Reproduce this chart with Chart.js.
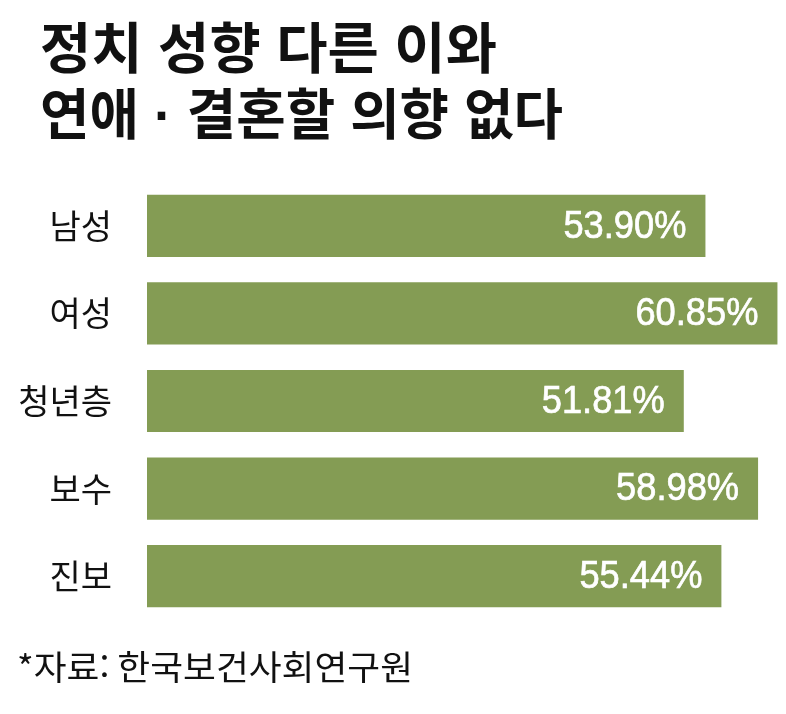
<!DOCTYPE html>
<html lang="ko">
<head>
<meta charset="utf-8">
<script src="https://cdn.jsdelivr.net/npm/chart.js@4"></script>
<style>
  html, body { margin: 0; padding: 0; background: #fff; }
  #wrap { width: 786px; height: 714px; position: relative; }
</style>
</head>
<body>
<div id="wrap"><canvas id="chart"></canvas></div>
<script>
// Data
const titleLines = ['정치 성향 다른 이와', '연애 · 결혼할 의향 없다'];
const categories = ['남성', '여성', '청년층', '보수', '진보'];
const values = [53.90, 60.85, 51.81, 58.98, 55.44];
const sourceNote = '*자료: 한국보건사회연구원';

const barColor = '#849c54';

// draw text squeezed/stretched horizontally to a given width (the original uses a narrow gothic face)
function fitText(ctx, text, x, y, width) {
  const w = ctx.measureText(text).width;
  ctx.save();
  ctx.translate(x, y);
  ctx.scale(width / w, 1);
  ctx.fillText(text, 0, 0);
  ctx.restore();
}

// Title and source note
const textPlugin = {
  id: 'textPlugin',
  afterDraw(chart) {
    const ctx = chart.ctx;
    ctx.save();
    ctx.fillStyle = '#111';
    ctx.textAlign = 'left';
    ctx.textBaseline = 'middle';
    ctx.font = 'bold 55px "Liberation Sans", "Noto Sans CJK KR"';
    fitText(ctx, titleLines[0], 40, 53, 457);
    fitText(ctx, titleLines[1], 40, 119, 523);
    ctx.font = '34px "Noto Sans CJK KR"';
    fitText(ctx, sourceNote, 17, 667, 396);
    ctx.restore();
  }
};

// Value labels inside the bar ends
const valueLabels = {
  id: 'valueLabels',
  afterDatasetsDraw(chart) {
    const ctx = chart.ctx;
    const meta = chart.getDatasetMeta(0);
    ctx.save();
    ctx.fillStyle = '#fff';
    ctx.strokeStyle = '#fff';
    ctx.lineWidth = 0.7;
    ctx.textAlign = 'right';
    ctx.textBaseline = 'middle';
    ctx.font = '39px "Liberation Sans"';
    meta.data.forEach((bar, i) => {
      const txt = values[i].toFixed(2) + '%';
      ctx.save();
      ctx.translate(bar.x - 19, bar.y + 1);
      ctx.scale(0.93, 1);
      ctx.fillText(txt, 0, 0);
      ctx.strokeText(txt, 0, 0);
      ctx.restore();
    });
    ctx.restore();
  }
};

new Chart(document.getElementById('chart'), {
  type: 'bar',
  data: {
    labels: categories,
    datasets: [{
      data: values,
      backgroundColor: barColor,
      borderWidth: 0,
      barPercentage: 0.71,
      categoryPercentage: 1.0
    }]
  },
  options: {
    indexAxis: 'y',
    responsive: true,
    maintainAspectRatio: false,
    animation: false,
    layout: { padding: { top: 182, bottom: 94, left: 0, right: 7 } },
    plugins: {
      legend: { display: false },
      tooltip: { enabled: false }
    },
    scales: {
      x: {
        min: 0,
        max: 61,
        display: false
      },
      y: {
        grid: { display: false, drawTicks: false },
        border: { display: false },
        ticks: {
          padding: 35,
          color: '#111',
          font: { family: '"Noto Sans CJK KR"', size: 34 }
        },
        afterFit(scale) { scale.width = 147; }
      }
    }
  },
  plugins: [textPlugin, valueLabels]
});
</script>
</body>
</html>
